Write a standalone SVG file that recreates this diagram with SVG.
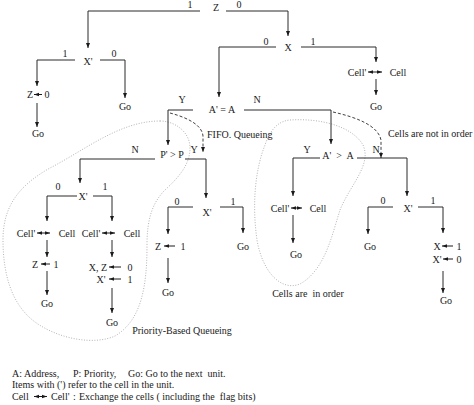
<svg xmlns="http://www.w3.org/2000/svg" width="474" height="405" viewBox="0 0 474 405">
<style>
text{font-family:"Liberation Serif","Times New Roman",serif;font-size:10px;fill:#1a1a1a}
.m{text-anchor:middle}
.c{fill:none;stroke:#2a2a2a;stroke-width:1}
.dash{fill:none;stroke:#2a2a2a;stroke-width:0.9;stroke-dasharray:3 2}
.dot{fill:none;stroke:#a0a0a0;stroke-width:0.8;stroke-dasharray:1 1.6}
.sa{fill:none;stroke:#1a1a1a;stroke-width:1}
</style>
<defs>
<marker id="ah" viewBox="0 0 10 10" refX="10" refY="5" markerWidth="5.5" markerHeight="5.5" orient="auto-start-reverse"><path d="M0,1 L10,5 L0,9 z" fill="#1a1a1a"/></marker>
<marker id="as" viewBox="0 0 10 10" refX="10" refY="5" markerWidth="5" markerHeight="5" orient="auto-start-reverse"><path d="M0,1.5 L10,5 L0,8.5 z" fill="#1a1a1a"/></marker>
</defs>
<rect width="474" height="405" fill="#fff"/>

<g id="regions">
<path class="dot" d="M160,121 C175,121 190,132 190,148 C190,165 178,178 165,190 C152,203 147,220 147,245 C147,285 142,320 115,336 C95,345 60,340 35,322 C12,305 3,275 3,240 C3,205 20,185 50,168 C85,150 120,121 160,121 Z"/>
<path class="dot" d="M290,120 C320,118 352,126 363,145 C372,165 350,185 340,210 C332,235 325,270 300,284 C280,292 262,270 257,240 C252,205 255,170 265,145 C270,130 278,121 290,120 Z"/>
</g>

<g id="connectors">
<path class="c" d="M200,11 H88 V48" marker-end="url(#ah)"/>
<path class="c" d="M226,11 H288 V36" marker-end="url(#ah)"/>
<path class="c" d="M75,60 H37 V86" marker-end="url(#ah)"/>
<path class="c" d="M100,60 H125 V98" marker-end="url(#ah)"/>
<path class="c" d="M37,103 V127" marker-end="url(#ah)"/>
<path class="c" d="M276,47 H219 V97" marker-end="url(#ah)"/>
<path class="c" d="M301,47 H376 V62" marker-end="url(#ah)"/>
<path class="c" d="M376,79 V95" marker-end="url(#ah)"/>
<path class="c" d="M193,110 H168 V145" marker-end="url(#ah)"/>
<path class="c" d="M244,110 H331 V144" marker-end="url(#ah)"/>
<path class="c" d="M155,159 H80 V183" marker-end="url(#ah)"/>
<path class="c" d="M185,159 H206 V198" marker-end="url(#ah)"/>
<path class="c" d="M77,196 H47 V221" marker-end="url(#ah)"/>
<path class="c" d="M93,196 H112 V221" marker-end="url(#ah)"/>
<path class="c" d="M47,240 V257" marker-end="url(#ah)"/>
<path class="c" d="M47,271 V295" marker-end="url(#ah)"/>
<path class="c" d="M112,240 V257" marker-end="url(#ah)"/>
<path class="c" d="M112,288 V313" marker-end="url(#ah)"/>
<path class="c" d="M193,207 H168 V234" marker-end="url(#ah)"/>
<path class="c" d="M168,258 V283" marker-end="url(#ah)"/>
<path class="c" d="M220,207 H243 V233" marker-end="url(#ah)"/>
<path class="c" d="M320,158 H293 V196" marker-end="url(#ah)"/>
<path class="c" d="M293,215 V243" marker-end="url(#ah)"/>
<path class="c" d="M357,158 H407 V196" marker-end="url(#ah)"/>
<path class="c" d="M393,207 H368 V234" marker-end="url(#ah)"/>
<path class="c" d="M418,207 H443 V233" marker-end="url(#ah)"/>
<path class="c" d="M443,271 V293" marker-end="url(#ah)"/>
<path class="dash" d="M170,113 C185,117 202,124 203,136 L203,152" marker-end="url(#ah)"/>
<path class="dash" d="M333,112 C355,117 378,125 381,140 L381,158" marker-end="url(#ah)"/>
<text class="m" x="190" y="8">1</text>
<text class="m" x="239" y="8">0</text>
<text class="m" x="65" y="57">1</text>
<text class="m" x="114" y="57">0</text>
<text class="m" x="266" y="45">0</text>
<text class="m" x="313" y="45">1</text>
<text class="m" x="182" y="103">Y</text>
<text class="m" x="257" y="103">N</text>
<text class="m" x="135" y="153">N</text>
<text class="m" x="194" y="153">Y</text>
<text class="m" x="307" y="153">Y</text>
<text class="m" x="376" y="153">N</text>
<text class="m" x="58" y="190">0</text>
<text class="m" x="105" y="190">1</text>
<text class="m" x="177" y="205">0</text>
<text class="m" x="233" y="205">1</text>
<text class="m" x="383" y="203.5">0</text>
<text class="m" x="433" y="203.5">1</text>
</g>

<g id="n-z"><text class="m" x="216" y="11">Z</text></g>
<g id="n-x1"><text class="m" x="88" y="65">X'</text></g>
<g id="n-z0"><text class="m" x="30" y="98">Z</text><line class="sa" x1="42" y1="94.5" x2="34" y2="94.5" marker-end="url(#as)"/><text class="m" x="47" y="98">0</text></g>
<g id="n-go1"><text class="m" x="125" y="110">Go</text></g>
<g id="n-go2"><text class="m" x="38" y="137">Go</text></g>
<g id="n-x"><text class="m" x="288" y="51">X</text></g>
<g id="n-swap1"><text class="m" x="357" y="75.5">Cell'</text><line class="sa" x1="368" y1="72" x2="382" y2="72" marker-start="url(#as)" marker-end="url(#as)"/><text class="m" x="398" y="75.5">Cell</text></g>
<g id="n-go3"><text class="m" x="376" y="109.5">Go</text></g>
<g id="n-aeq"><text class="m" x="222" y="113" xml:space="preserve">A' = A</text></g>
<g id="n-pgt"><text class="m" x="172" y="158" xml:space="preserve">P' &gt; P</text></g>
<g id="n-agt"><text class="m" x="338" y="158.5" xml:space="preserve">A'  &gt;  A</text></g>
<g id="n-x2"><text class="m" x="83" y="199.5">X'</text></g>
<g id="n-swap2"><text class="m" x="26" y="236.5">Cell'</text><line class="sa" x1="37" y1="233" x2="50" y2="233" marker-start="url(#as)" marker-end="url(#as)"/><text class="m" x="67" y="236.5">Cell</text></g>
<g id="n-swap3"><text class="m" x="91" y="236.5">Cell'</text><line class="sa" x1="102" y1="233" x2="115" y2="233" marker-start="url(#as)" marker-end="url(#as)"/><text class="m" x="132" y="236.5">Cell</text></g>
<g id="n-z1a"><text class="m" x="35" y="267.5">Z</text><line class="sa" x1="50" y1="264" x2="41" y2="264" marker-end="url(#as)"/><text class="m" x="56" y="267.5">1</text></g>
<g id="n-go4"><text class="m" x="47" y="306.5">Go</text></g>
<g id="n-xz"><text class="m" x="98" y="270.5">X, Z</text><line class="sa" x1="121" y1="267" x2="109" y2="267" marker-end="url(#as)"/><text class="m" x="130" y="270.5">0</text>
<text class="m" x="101" y="282.5">X'</text><line class="sa" x1="121" y1="279" x2="109" y2="279" marker-end="url(#as)"/><text class="m" x="130" y="282.5">1</text></g>
<g id="n-go5"><text class="m" x="112" y="325.5">Go</text></g>
<g id="n-x3"><text class="m" x="207" y="215.5">X'</text></g>
<g id="n-z1b"><text class="m" x="158" y="249.5">Z</text><line class="sa" x1="175" y1="246" x2="164" y2="246" marker-end="url(#as)"/><text class="m" x="183" y="249.5">1</text></g>
<g id="n-go6"><text class="m" x="168" y="295.5">Go</text></g>
<g id="n-go7"><text class="m" x="243" y="249.5">Go</text></g>
<g id="n-swap4"><text class="m" x="280" y="211.5">Cell'</text><line class="sa" x1="291" y1="208" x2="302" y2="208" marker-start="url(#as)" marker-end="url(#as)"/><text class="m" x="318" y="211.5">Cell</text></g>
<g id="n-go8"><text class="m" x="296" y="257.5">Go</text></g>
<g id="n-x4"><text class="m" x="408" y="211.5">X'</text></g>
<g id="n-go9"><text class="m" x="370" y="249.5">Go</text></g>
<g id="n-x41"><text class="m" x="437" y="249.5">X</text><line class="sa" x1="453" y1="246" x2="442" y2="246" marker-end="url(#as)"/><text class="m" x="459" y="249.5">1</text>
<text class="m" x="437" y="262.5">X'</text><line class="sa" x1="453" y1="259" x2="443" y2="259" marker-end="url(#as)"/><text class="m" x="459" y="262.5">0</text></g>
<g id="n-go10"><text class="m" x="446" y="304">Go</text></g>

<g id="labels">
<text x="207" y="138">FIFO. Queueing</text>
<text x="388" y="136.5">Cells are not in order</text>
<text class="m" x="308" y="296.5" xml:space="preserve">Cells are  in order</text>
<text class="m" x="182" y="333.5">Priority-Based Queueing</text>
</g>

<g id="legend">
<text y="377"><tspan x="12">A: Address,</tspan><tspan x="73">P: Priority,</tspan><tspan x="128" xml:space="preserve">Go: Go to the next  unit.</tspan></text>
<text x="12" y="388">Items with (') refer to the cell in the unit.</text>
<text x="12" y="400">Cell</text>
<line class="sa" x1="34" y1="396.5" x2="47" y2="396.5" marker-start="url(#as)" marker-end="url(#as)"/>
<text x="51" y="400">Cell'</text>
<text x="73" y="400">:</text>
<text x="79" y="400" xml:space="preserve">Exchange the cells ( including the  flag bits)</text>
</g>
</svg>
